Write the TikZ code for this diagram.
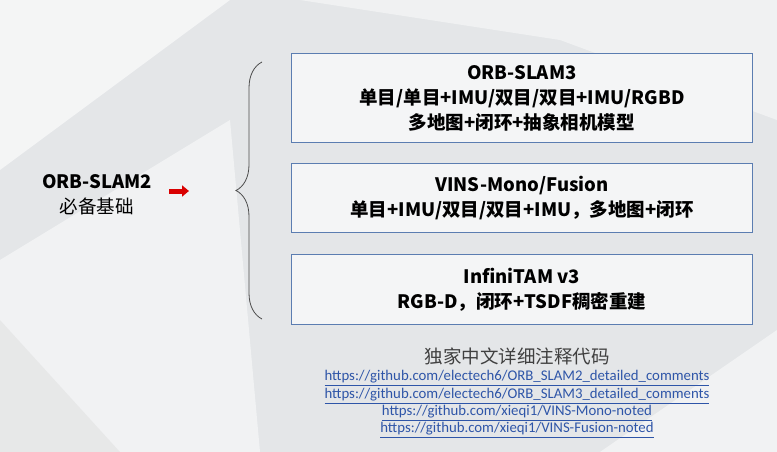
\documentclass[tikz,border=0pt]{standalone}
\usepackage{fontspec}
\setmainfont{Carlito}
\newfontfamily\cjk{Noto Sans CJK SC}
\usetikzlibrary{decorations.pathreplacing,arrows.meta}
\definecolor{bg}{HTML}{E4E6E8}
\definecolor{boxline}{HTML}{5B7DB1}
\definecolor{link}{HTML}{2E55A8}
\tikzset{
  box/.style={draw=boxline,line width=0.9pt,fill=white!60!bg,minimum width=461pt,anchor=north west,align=center},
  ttl/.style={font=\cjk\bfseries\fontsize{18.5}{25}\selectfont,align=center},
  lnk/.style={font=\fontsize{14.8}{16}\selectfont,text=link},
}
\newcommand{\ul}[1]{\underline{#1}}
\begin{document}
\begin{tikzpicture}[x=1pt,y=-1pt]
\useasboundingbox (0,0) rectangle (777,452);
\fill[bg] (0,0) rectangle (777,452);
\fill[white,opacity=0.6] (0,0) -- (230,0) -- (0,170) -- cycle;
\fill[white,opacity=0.5] (0,260) -- (230,120) -- (260,452) -- (0,452) -- cycle;
\fill[white,opacity=0.45] (300,0) -- (777,0) -- (777,120) -- (560,40) -- cycle;
\fill[white,opacity=0.5] (600,452) -- (777,330) -- (777,452) -- cycle;
\fill[gray!25,opacity=0.5] (0,320) -- (120,452) -- (0,452) -- cycle;

\node[box,minimum height=89pt] (b1) at (291,53) {};
\node[ttl] at (b1.center) {ORB-SLAM3\\单目/单目+IMU/双目/双目+IMU/RGBD\\多地图+闭环+抽象相机模型};
\node[box,minimum height=69pt] (b2) at (291,163) {};
\node[ttl] at (b2.center) {VINS-Mono/Fusion\\单目+IMU/双目/双目+IMU，多地图+闭环};
\node[box,minimum height=70pt] (b3) at (291,254) {};
\node[ttl] at (b3.center) {InfiniTAM v3\\RGB-D，闭环+TSDF稠密重建};

\node[ttl] (src) at (97,195) {ORB-SLAM2\\\mdseries 必备基础};
\coordinate (a1) at (169,191);
\coordinate (a2) at (189,191);
\draw[red!85!black,line width=5pt,-{Triangle[length=7pt,width=11pt]}] (a1) -- (a2);
\coordinate (t) at (262,62); \coordinate (bo) at (262,319);
\draw[gray!60!black,line width=0.8pt,decorate,decoration={brace,amplitude=26pt,mirror}] (t) -- (bo);

\node[font=\cjk\fontsize{18.5}{20}\selectfont,text=black!75] (h) at (517,356) {独家中文详细注释代码};
\node[lnk] (l1) at (517,378) {\ul{https://github.com/electech6/ORB\_SLAM2\_detailed\_comments}};
\node[lnk] (l2) at (517,396) {\ul{https://github.com/electech6/ORB\_SLAM3\_detailed\_comments}};
\node[lnk] (l3) at (517,413) {\ul{https://github.com/xieqi1/VINS-Mono-noted}};
\node[lnk] (l4) at (517,430) {\ul{https://github.com/xieqi1/VINS-Fusion-noted}};
\end{tikzpicture}
\end{document}
